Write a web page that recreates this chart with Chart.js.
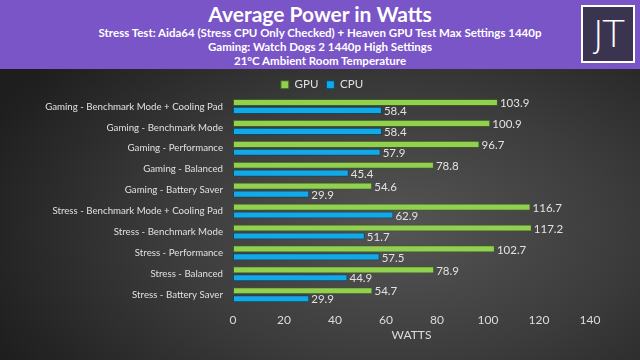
<!DOCTYPE html>
<html>
<head>
<meta charset="utf-8">
<script src="https://cdn.jsdelivr.net/npm/chart.js@4/dist/chart.umd.min.js"></script>
<style>
  html, body { margin:0; padding:0; width:640px; height:360px; overflow:hidden; background:#222; }
  #header { position:absolute; left:0; top:0; width:640px; height:69px; background:#7a55c8; color:#fff; text-align:center; font-family:Lato, "Open Sans", sans-serif; }
  #title { position:absolute; left:0; width:640px; top:1px; font-size:21px; font-weight:bold; }
  .sub { position:absolute; left:0; width:640px; font-size:11.5px; font-weight:bold; }
  #logo { position:absolute; left:581px; top:5px; width:50px; height:54px; border:2px solid #fff; background:#3a3450; color:#fff; font-family:"DejaVu Sans", sans-serif; font-size:38px; line-height:54px; text-align:center; font-weight:300; letter-spacing:-2px; }
  #wrap { position:absolute; left:0; top:69px; width:640px; height:291px; background:radial-gradient(ellipse 70% 90% at 62% 55%, #555 0%, #3c3c3c 50%, #1e1e1e 100%); }
</style>
</head>
<body>
<div id="header">
  <div id="title">Average Power in Watts</div>
  <div class="sub" style="top:26px">Stress Test: Aida64 (Stress CPU Only Checked) + Heaven GPU Test Max Settings 1440p</div>
  <div class="sub" style="top:40px">Gaming: Watch Dogs 2 1440p High Settings</div>
  <div class="sub" style="top:54px">21°C Ambient Room Temperature</div>
  <div id="logo">JT</div>
</div>
<div id="wrap"><canvas id="c" width="640" height="291"></canvas></div>
<script>
const categories = [
  "Gaming - Benchmark Mode + Cooling Pad",
  "Gaming - Benchmark Mode",
  "Gaming - Performance",
  "Gaming - Balanced",
  "Gaming - Battery Saver",
  "Stress - Benchmark Mode + Cooling Pad",
  "Stress - Benchmark Mode",
  "Stress - Performance",
  "Stress - Balanced",
  "Stress - Battery Saver"
];
const gpuValues = [103.9, 100.9, 96.7, 78.8, 54.6, 116.7, 117.2, 102.7, 78.9, 54.7];
const cpuValues = [58.4, 58.4, 57.9, 45.4, 29.9, 62.9, 51.7, 57.5, 44.9, 29.9];
const xTicks = [0, 20, 40, 60, 80, 100, 120, 140];

const FONT = 'Lato, "Open Sans", sans-serif';

const labelPlugin = {
  id: 'valueLabels',
  afterDatasetsDraw(chart) {
    const ctx = chart.ctx;
    ctx.save();
    ctx.font = '11.5px ' + FONT;
    ctx.fillStyle = '#e2e2e2';
    ctx.textBaseline = 'middle';
    ctx.textAlign = 'left';
    chart.data.datasets.forEach((ds, i) => {
      const meta = chart.getDatasetMeta(i);
      meta.data.forEach((el, j) => {
        ctx.fillText(ds.data[j].toFixed(1), el.x + 2, el.y + 1);
      });
    });
    ctx.restore();
  }
};

const layoutTweaks = {
  id: 'layoutTweaks',
  beforeLayout(chart) {
    const lg = chart.legend;
    if (lg && !lg._patched) {
      const f = lg.fit.bind(lg);
      lg.fit = function () { f(); this.height = 25; };
      lg._patched = true;
    }
  },
  afterLayout(chart) {
    const lg = chart.legend;
    if (lg) { lg.left += 22; lg.right += 22; }
  }
};

new Chart(document.getElementById('c'), {
  type: 'bar',
  data: {
    labels: categories,
    datasets: [
      { label: 'GPU', data: gpuValues, backgroundColor: '#92d050', borderColor: '#3f5a22', borderWidth: 1, borderSkipped: false, categoryPercentage: 0.76, barPercentage: 0.9 },
      { label: 'CPU', data: cpuValues, backgroundColor: '#12a9e8', borderColor: '#0b4a66', borderWidth: 1, borderSkipped: false, categoryPercentage: 0.76, barPercentage: 0.9 }
    ]
  },
  options: {
    indexAxis: 'y',
    responsive: false,
    animation: false,
    layout: { padding: { left: 10, right: 50, top: 2, bottom: 18 } },
    plugins: {
      legend: {
        display: true,
        position: 'top',
        labels: { color: '#e0e0e0', font: { family: FONT, size: 11.5 }, boxWidth: 8, boxHeight: 8, padding: 8 }
      },
      tooltip: { enabled: false }
    },
    scales: {
      x: {
        min: 0, max: 140,
        afterBuildTicks(scale) { scale.ticks = xTicks.map(v => ({ value: v })); },
        grid: { display: false },
        border: { display: false },
        ticks: { color: '#dcdcdc', font: { family: FONT, size: 12 }, padding: 0 },
        title: { display: true, text: 'WATTS', color: '#dcdcdc', font: { family: FONT, size: 12 }, padding: { top: 0, bottom: 0 } }
      },
      y: {
        grid: { display: false },
        border: { display: false },
        ticks: { color: '#e0e0e0', font: { family: FONT, size: 9.7 }, padding: 2 },
        afterFit(scale) { scale.width = 223; }
      }
    }
  },
  plugins: [labelPlugin, layoutTweaks]
});
</script>
</body>
</html>
